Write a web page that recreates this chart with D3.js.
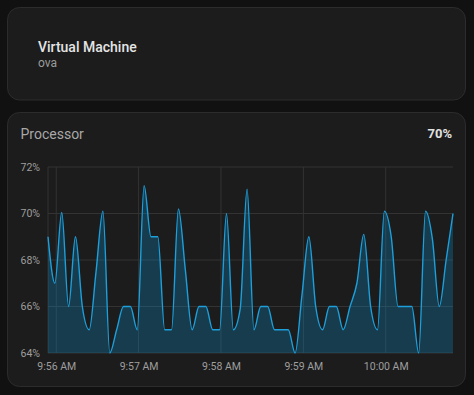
<!DOCTYPE html>
<html>
<head>
<meta charset="utf-8">
<script src="https://cdn.jsdelivr.net/npm/d3@7"></script>
<style>
  html, body { margin: 0; padding: 0; background: #111111; }
  svg { display: block; font-family: Roboto, "Noto Sans", sans-serif; }
</style>
</head>
<body>
<svg width="474" height="395"></svg>
<script>
// отсчёты раз в 5 секунд
const times = [
  "09:55:54", "09:55:59", "09:56:04", "09:56:09", "09:56:14", "09:56:19", "09:56:24", "09:56:29", "09:56:34", "09:56:39",
  "09:56:44", "09:56:49", "09:56:54", "09:56:59", "09:57:04", "09:57:09", "09:57:14", "09:57:19", "09:57:24", "09:57:29",
  "09:57:34", "09:57:39", "09:57:44", "09:57:49", "09:57:54", "09:57:59", "09:58:04", "09:58:09", "09:58:14", "09:58:19",
  "09:58:24", "09:58:29", "09:58:34", "09:58:39", "09:58:44", "09:58:49", "09:58:54", "09:58:59", "09:59:04", "09:59:09",
  "09:59:14", "09:59:19", "09:59:24", "09:59:29", "09:59:34", "09:59:39", "09:59:44", "09:59:49", "09:59:54", "09:59:59",
  "10:00:04", "10:00:09", "10:00:14", "10:00:19", "10:00:24", "10:00:29", "10:00:34", "10:00:39", "10:00:44", "10:00:49"
];
const cpu = [
  69.0, 67.0, 70.05, 66.0, 69.0, 66.0, 65.0, 67.5, 70.1, 64.0,
  65.0, 66.0, 66.0, 65.0, 71.2, 69.0, 69.0, 65.0, 65.0, 70.2,
  67.6, 65.0, 66.0, 66.0, 65.0, 65.0, 70.0, 65.0, 65.9, 71.05,
  65.0, 66.0, 66.0, 65.0, 65.0, 65.0, 64.0, 66.5, 69.0, 66.0,
  65.0, 66.0, 66.0, 65.0, 66.0, 67.0, 69.1, 66.0, 65.0, 70.1,
  69.0, 66.0, 66.0, 66.0, 64.0, 70.1, 68.9, 66.0, 68.0, 70.0
];
const yTicks = [64, 66, 68, 70, 72];
const deviceName = "Virtual Machine";
const deviceSub = "ova";
const cardTitle = "Processor";
const currentValue = "70%";

const parseT = d3.timeParse("%H:%M:%S");
const data = times.map((t, i) => ({t: parseT(t), v: cpu[i]}));

const svg = d3.select("svg");

// карточки
svg.append("rect")
    .attr("x", 7.5).attr("y", 7.5).attr("width", 458).attr("height", 92.5)
    .attr("rx", 12).attr("fill", "#1c1c1c").attr("stroke", "#2c2c2c");
svg.append("rect")
    .attr("x", 7.5).attr("y", 112.5).attr("width", 458).attr("height", 274)
    .attr("rx", 12).attr("fill", "#1c1c1c").attr("stroke", "#2c2c2c");

svg.append("text").attr("x", 38).attr("y", 51.5)
    .attr("font-size", 14).attr("font-weight", 500).attr("fill", "#e4e4e4")
    .text(deviceName);
svg.append("text").attr("x", 38).attr("y", 66.5)
    .attr("font-size", 12).attr("fill", "#9b9b9b")
    .text(deviceSub);

svg.append("text").attr("x", 20.5).attr("y", 138.5)
    .attr("font-size", 14).attr("fill", "#a8a8a8")
    .text(cardTitle);
svg.append("text").attr("x", 452).attr("y", 138)
    .attr("font-size", 13).attr("font-weight", 700).attr("fill", "#e1e1e1")
    .attr("text-anchor", "end")
    .text(currentValue);

const area = {left: 48, right: 453, top: 167, bottom: 353};

const scX = d3.scaleTime()
    .domain(d3.extent(data, d => d.t))
    .range([area.left, area.right]);
const scY = d3.scaleLinear()
    .domain(d3.extent(yTicks))
    .range([area.bottom, area.top]);

// сетка
const gridColor = "#333333";
svg.append("g")
    .selectAll("line")
    .data(yTicks)
    .enter()
    .append("line")
    .attr("x1", area.left).attr("x2", area.right)
    .attr("y1", d => scY(d)).attr("y2", d => scY(d))
    .attr("stroke", gridColor);

const minuteTicks = scX.ticks(d3.timeMinute.every(1));
svg.append("g")
    .selectAll("line")
    .data(minuteTicks)
    .enter()
    .append("line")
    .attr("x1", d => scX(d)).attr("x2", d => scX(d))
    .attr("y1", area.top).attr("y2", area.bottom)
    .attr("stroke", gridColor);

svg.append("line")
    .attr("x1", area.left).attr("x2", area.left)
    .attr("y1", area.top).attr("y2", area.bottom)
    .attr("stroke", gridColor);

// оси
const axisY = svg.append("g")
    .attr("transform", `translate(${area.left}, 0)`)
    .call(d3.axisLeft(scY).tickValues(yTicks).tickFormat(d => d + "%").tickSize(0).tickPadding(8));
axisY.select(".domain").remove();
axisY.selectAll("text").attr("fill", "#9e9e9e").attr("font-size", 10.5).attr("font-family", "Roboto");

const axisX = svg.append("g")
    .attr("transform", `translate(0, ${area.bottom})`)
    .call(d3.axisBottom(scX).ticks(d3.timeMinute.every(1)).tickFormat(d3.timeFormat("%-I:%M %p")).tickSize(0).tickPadding(10));
axisX.select(".domain").remove();
axisX.selectAll("text").attr("fill", "#9e9e9e").attr("font-size", 10.5).attr("font-family", "Roboto");

// график
svg.append("path")
    .datum(data)
    .attr("fill", "rgba(3,155,229,0.25)")
    .attr("d", d3.area()
        .x(d => scX(d.t))
        .y0(area.bottom)
        .y1(d => scY(d.v))
        .curve(d3.curveMonotoneX));

svg.append("path")
    .datum(data)
    .attr("fill", "none")
    .attr("stroke", "#1d9fdb")
    .attr("stroke-width", 1.4)
    .attr("d", d3.line()
        .x(d => scX(d.t))
        .y(d => scY(d.v))
        .curve(d3.curveMonotoneX));
</script>
</body>
</html>
